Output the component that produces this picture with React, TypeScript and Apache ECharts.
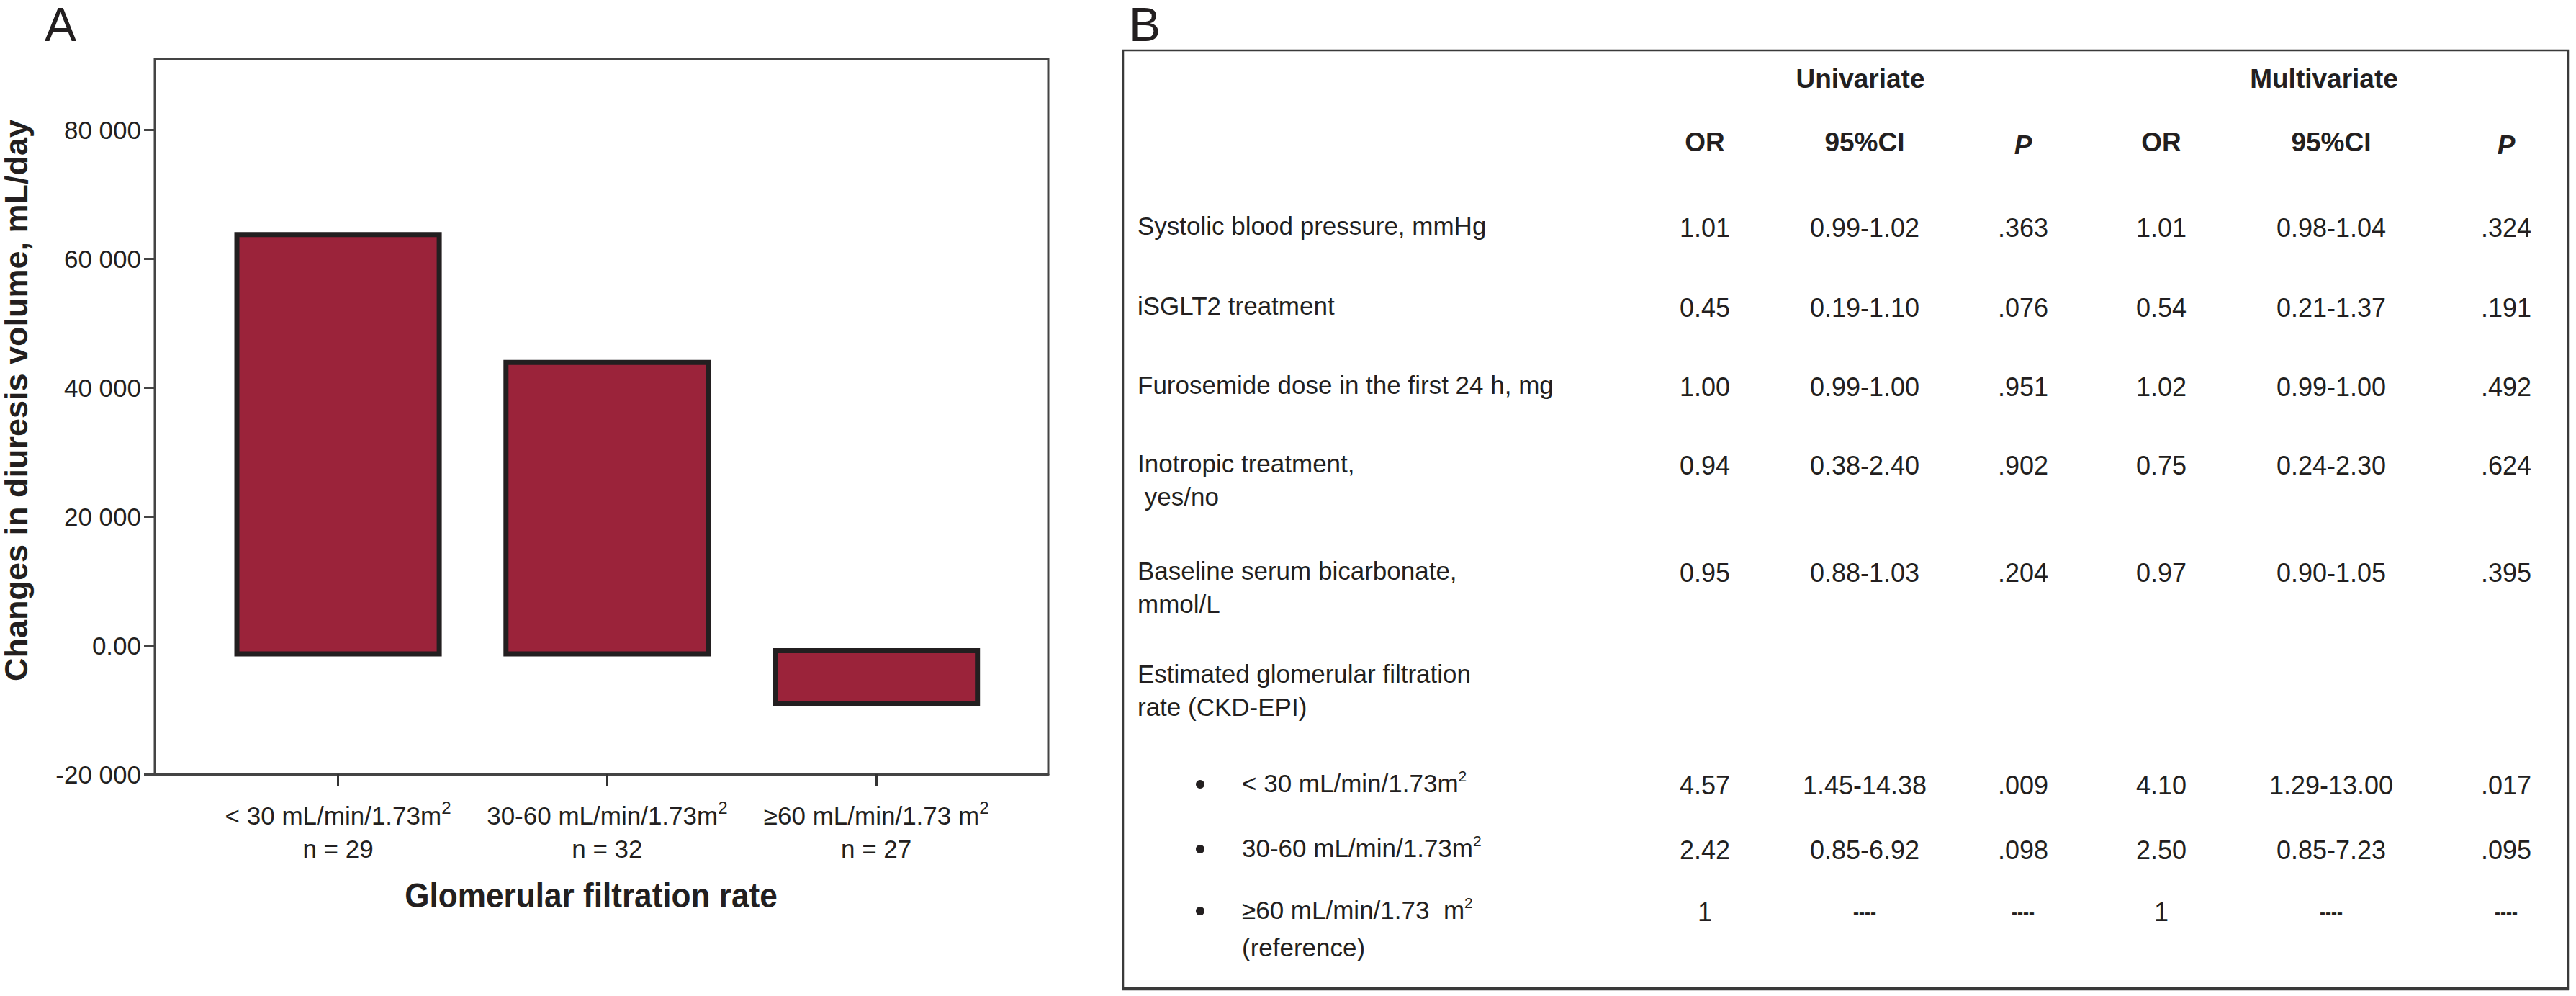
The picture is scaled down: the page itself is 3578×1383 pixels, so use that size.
import React, { useEffect, useRef } from "react";
import * as echarts from "echarts";

// ---------- Panel A data ----------
const groupLabels = ["< 30 mL/min/1.73m", "30-60 mL/min/1.73m", "≥60 mL/min/1.73 m"];
const groupN = [29, 32, 27];
const barTop = [63750, 43900, -840];
const barBottom = [-1340, -1340, -8990];
const yTickValues = [-20000, 0, 20000, 40000, 60000, 80000];
const yTickLabels = ["-20 000", "0.00", "20 000", "40 000", "60 000", "80 000"];
const yAxisTitle = "Changes in diuresis volume, mL/day";
const xAxisTitle = "Glomerular filtration rate";

// ---------- Panel B data ----------
const groupHeaders = ["Univariate", "Multivariate"];
const columnHeaders = ["OR", "95%CI", "P", "OR", "95%CI", "P"];
const predictors = [
  "Systolic blood pressure, mmHg",
  "iSGLT2 treatment",
  "Furosemide dose in the first 24 h, mg",
  "Inotropic treatment,\n\u00a0yes/no",
  "Baseline serum bicarbonate,\nmmol/L",
];
const egfrHeading = "Estimated glomerular filtration\nrate (CKD-EPI)";
const egfrStrata = ["< 30 mL/min/1.73m", "30-60 mL/min/1.73m", "≥60 mL/min/1.73\u00a0\u00a0m"];
const egfrStrataNote = ["", "", "(reference)"];
const uniOR = ["1.01", "0.45", "1.00", "0.94", "0.95", "4.57", "2.42", "1"];
const uniCI = ["0.99-1.02", "0.19-1.10", "0.99-1.00", "0.38-2.40", "0.88-1.03", "1.45-14.38", "0.85-6.92", "----"];
const uniP = [".363", ".076", ".951", ".902", ".204", ".009", ".098", "----"];
const multiOR = ["1.01", "0.54", "1.02", "0.75", "0.97", "4.10", "2.50", "1"];
const multiCI = ["0.98-1.04", "0.21-1.37", "0.99-1.00", "0.24-2.30", "0.90-1.05", "1.29-13.00", "0.85-7.23", "----"];
const multiP = [".324", ".191", ".492", ".624", ".395", ".017", ".095", "----"];

// ---------- layout / style ----------
const FONT = "'Liberation Sans', Arial, Helvetica, sans-serif";
const INK = "#231f20";
const FRAME = "#444444";
const BAR_FILL = "#9b233a";
const BAR_STROKE = "#231f20";
const W = 3578;
const H = 1383;

const colX = [2368, 2590, 2810, 3002, 3238, 3481];
const groupHeaderX = [2584, 3228];
const rowY = [313, 424, 534, 643, 792, 1087, 1177, 1263];
const egfrHeadingY = 935;
const lineGap = 46;

function txt(x: number, y: number, text: string, extra: any = {}) {
  return {
    type: "text",
    x,
    y,
    silent: true,
    style: {
      text,
      fill: INK,
      fontFamily: FONT,
      fontSize: 36,
      align: "center",
      verticalAlign: "middle",
      ...extra,
    },
  };
}

function buildTable(): any[] {
  const els: any[] = [];
  // frame
  els.push({
    type: "rect",
    silent: true,
    shape: { x: 1560, y: 70, width: 2007, height: 1303 },
    style: { fill: "none", stroke: "#3a3a3a", lineWidth: 2.5 },
  });
  els.push({
    type: "line",
    silent: true,
    shape: { x1: 1558, y1: 1373, x2: 3568, y2: 1373 },
    style: { stroke: "#3a3a3a", lineWidth: 4.5 },
  });
  // panel letter
  els.push(txt(1590, 34, "B", { fontSize: 66, lineHeight: 50 }));
  // group headers
  groupHeaders.forEach((h, i) => els.push(txt(groupHeaderX[i], 109, h, { fontWeight: "bold", fontSize: 37 })));
  columnHeaders.forEach((h, i) =>
    els.push(
      txt(colX[i], h === "P" ? 201 : 197, h, {
        fontWeight: "bold",
        fontSize: 37,
        fontStyle: h === "P" ? "italic" : "normal",
      })
    )
  );
  // predictor labels
  predictors.forEach((p, r) => {
    p.split("\n").forEach((line, k) => {
      els.push(txt(1580, rowY[r] + k * lineGap, line, { align: "left", fontSize: 35 }));
    });
  });
  egfrHeading.split("\n").forEach((line, k) => {
    els.push(txt(1580, egfrHeadingY + k * lineGap, line, { align: "left", fontSize: 35 }));
  });
  egfrStrata.forEach((s, i) => {
    const y = rowY[predictors.length + i];
    els.push({
      type: "circle",
      silent: true,
      shape: { cx: 1667, cy: y + 2, r: 6 },
      style: { fill: INK },
    });
    els.push(
      txt(1725, y, s + "{sup|2}", {
        align: "left",
        fontSize: 35,
        lineHeight: 40,
        rich: {
          sup: { fontSize: 21, lineHeight: 11, verticalAlign: "top", fill: INK, fontFamily: FONT },
        },
      })
    );
    if (egfrStrataNote[i]) els.push(txt(1725, y + 52, egfrStrataNote[i], { align: "left", fontSize: 35 }));
  });
  // values
  const cols = [uniOR, uniCI, uniP, multiOR, multiCI, multiP];
  cols.forEach((col, c) => {
    col.forEach((v, r) => {
      const dash = v === "----";
      els.push(
        txt(colX[c], rowY[r] + 3, v, dash ? { fontWeight: "bold", fontSize: 24 } : {})
      );
    });
  });
  return els;
}

export default function App() {
  const ref = useRef<HTMLDivElement>(null);
  useEffect(() => {
    if (!ref.current) return;
    const chart = echarts.init(ref.current, null, { renderer: "svg", width: W, height: H });
    const option: any = {
      animation: false,
      backgroundColor: "#ffffff",
      textStyle: { fontFamily: FONT },
      grid: {
        left: 215,
        top: 82,
        width: 1241,
        height: 993,
        show: true,
        borderColor: FRAME,
        borderWidth: 3,
        backgroundColor: "transparent",
        containLabel: false,
        outerBoundsMode: "none",
      },
      xAxis: {
        type: "value",
        min: -0.681,
        max: 2.639,
        axisLine: { show: true, onZero: false, lineStyle: { color: FRAME, width: 3 } },
        axisTick: { show: true, length: 17, customValues: [0, 1, 2], lineStyle: { color: "#333", width: 3 } },
        axisLabel: {
          customValues: [0, 1, 2],
          formatter: (v: number) => {
            const i = Math.round(v);
            return `${groupLabels[i]}{sup|2}\nn = ${groupN[i]}`;
          },
          fontSize: 35,
          lineHeight: 46,
          color: INK,
          fontFamily: FONT,
          margin: 34,
          rich: {
            sup: { fontSize: 24, lineHeight: 18, verticalAlign: "top", color: INK, fontFamily: FONT },
          },
        },
        splitLine: { show: false },
      },
      yAxis: {
        type: "value",
        min: -20000,
        max: 91000,
        axisLine: { show: true, onZero: false, lineStyle: { color: FRAME, width: 3 } },
        axisTick: { show: true, length: 15, customValues: yTickValues, lineStyle: { color: FRAME, width: 3 } },
        axisLabel: {
          customValues: yTickValues,
          formatter: (v: number) => {
            const k = yTickValues.indexOf(v);
            return k >= 0 ? yTickLabels[k] : "";
          },
          fontSize: 35,
          color: INK,
          fontFamily: FONT,
          margin: 19,
        },
        splitLine: { show: false },
      },
      series: [
        {
          type: "custom",
          clip: false,
          encode: { x: 0, y: [1, 2] },
          data: groupLabels.map((_, i) => [i, barBottom[i], barTop[i]]),
          renderItem: (params: any, api: any) => {
            const x = api.value(0);
            const lo = api.value(1);
            const hi = api.value(2);
            const half = 0.376;
            const p1 = api.coord([x - half, hi]);
            const p2 = api.coord([x + half, lo]);
            return {
              type: "rect",
              shape: { x: p1[0], y: p1[1], width: p2[0] - p1[0], height: p2[1] - p1[1] },
              style: { fill: BAR_FILL, stroke: BAR_STROKE, lineWidth: 7 },
            };
          },
        },
      ],
      graphic: {
        elements: [
          txt(84, 34, "A", { fontSize: 66, lineHeight: 50 }),
          {
            type: "text",
            x: 22,
            y: 556,
            rotation: Math.PI / 2,
            silent: true,
            style: {
              text: yAxisTitle,
              fill: INK,
              fontFamily: FONT,
              fontSize: 45,
              lineHeight: 36,
              fontWeight: "bold",
              align: "center",
              verticalAlign: "middle",
            },
          },
          {
            type: "text",
            x: 821,
            y: 1243,
            scaleX: 0.92,
            silent: true,
            style: {
              text: xAxisTitle,
              fill: INK,
              fontFamily: FONT,
              fontSize: 48,
              fontWeight: "bold",
              align: "center",
              verticalAlign: "middle",
            },
          },
          ...buildTable(),
        ],
      },
    };
    chart.setOption(option);
    return () => {
      chart.dispose();
    };
  }, []);
  return (
    <div
      ref={ref}
      style={{ position: "fixed", left: 0, top: 0, width: W, height: H, background: "#fff" }}
    />
  );
}
